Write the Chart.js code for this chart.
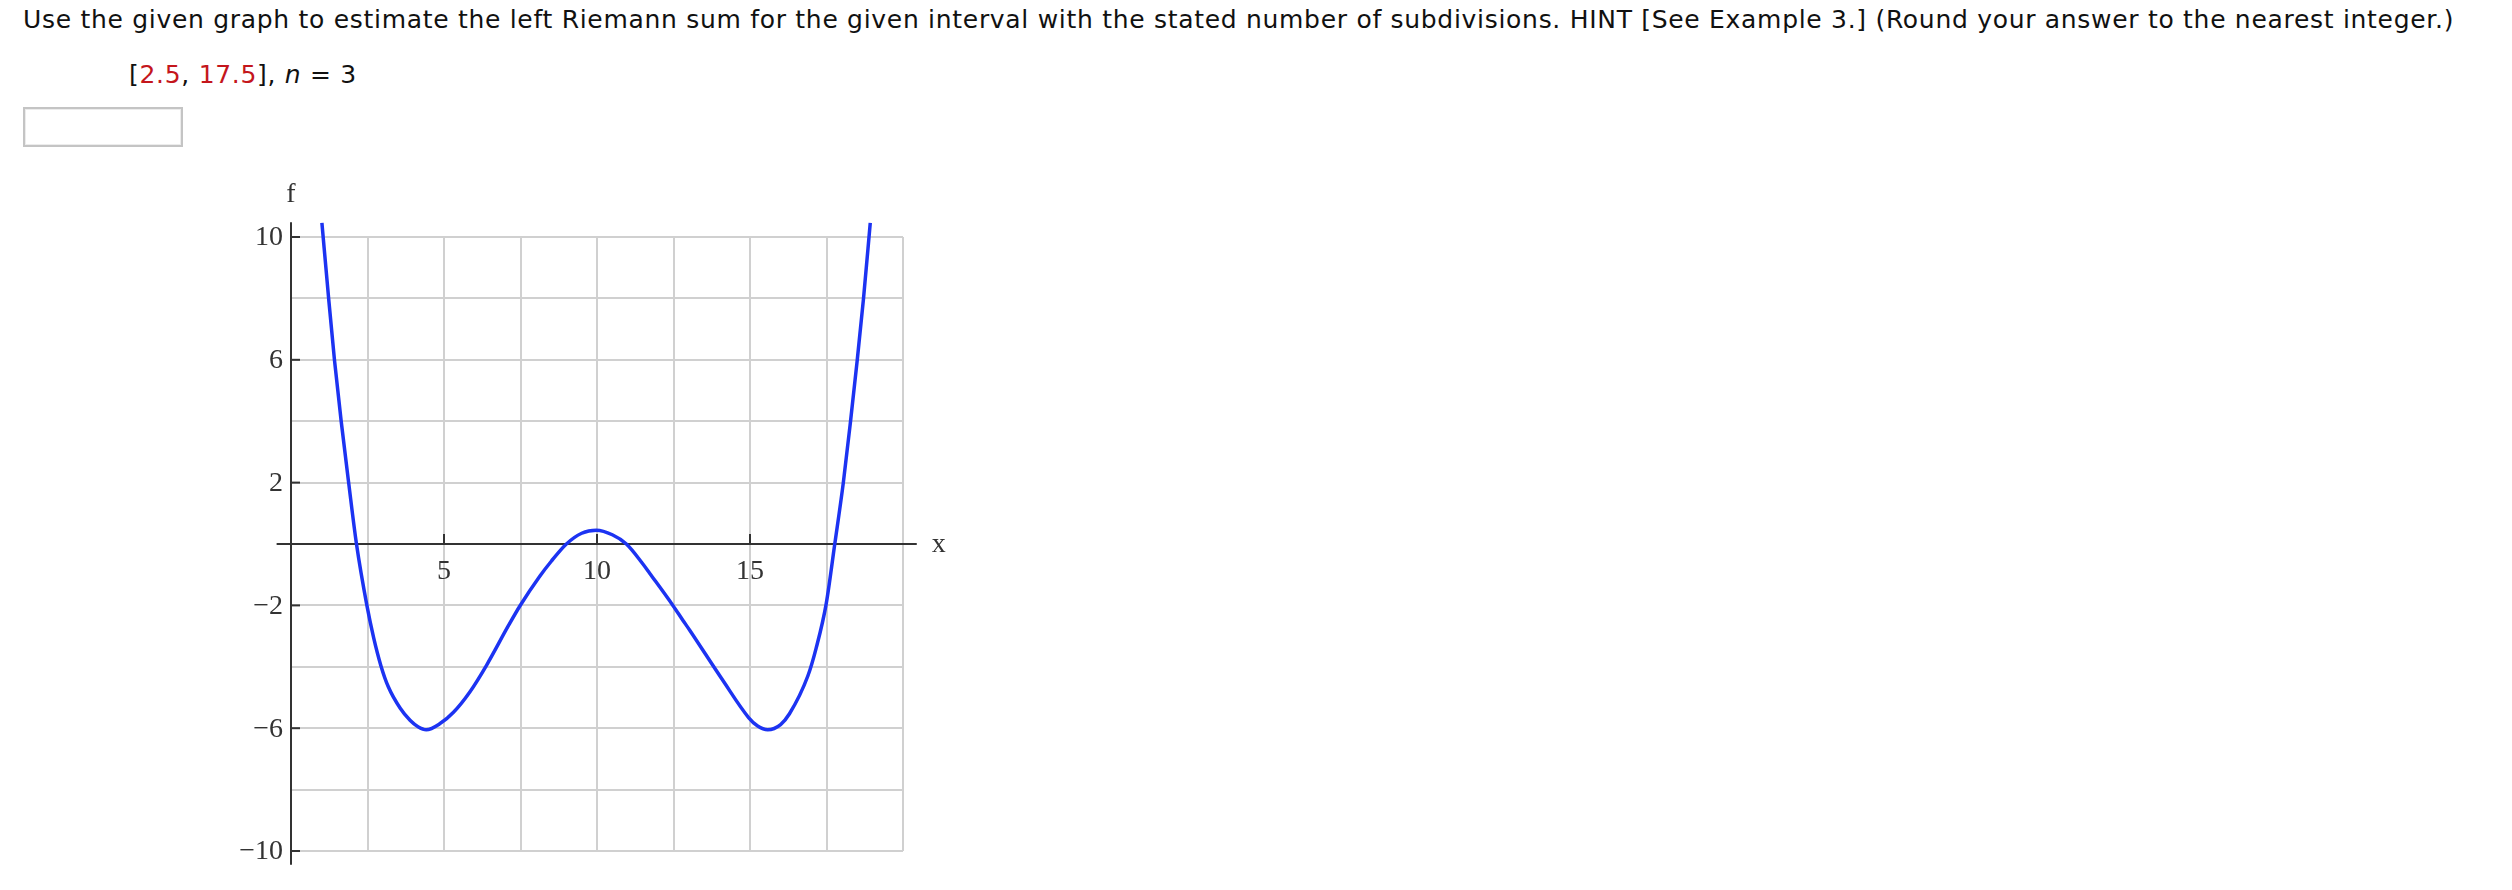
<!DOCTYPE html>
<html>
<head>
<meta charset="utf-8">
<script src="https://cdn.jsdelivr.net/npm/chart.js@4"></script>
<style>
  body { margin: 0; background: #fff; font-family: "DejaVu Sans", Verdana, sans-serif; color: #111; }
  .q { position: absolute; left: 23px; top: 7px; font-size: 25px; line-height: 25px; letter-spacing: 0.7px; white-space: nowrap; }
  .interval { position: absolute; left: 129px; top: 62px; font-size: 25px; line-height: 25px; letter-spacing: 0.7px; white-space: nowrap; }
  .red { color: #c4161c; }
  .answer { position: absolute; left: 23px; top: 107px; width: 156px; height: 36px; border: 2px solid #c4c4c4; box-shadow: inset 0 0 0 1px #ececec; background: #fff; }
  #graph { position: absolute; left: 0; top: 160px; }
</style>
</head>
<body>
<div class="q">Use the given graph to estimate the left Riemann sum for the given interval with the stated number of subdivisions. HINT [See Example 3.] (Round your answer to the nearest integer.)</div>
<div class="interval">[<span class="red">2.5</span>, <span class="red">17.5</span>], <i>n</i> = 3</div>
<div class="answer"></div>
<canvas id="graph" width="1000" height="730"></canvas>
<script>
// curve
var curveX = [1.01, 1.23, 1.42, 1.64, 1.89, 2.14, 2.48, 2.70, 2.94, 3.18, 3.57, 3.89, 4.15, 4.42, 4.87, 5.31, 5.85, 6.39, 7.10, 7.48, 8.13, 8.50, 9.00, 9.50, 9.98, 10.50, 10.96, 11.50, 11.72, 12.48, 12.81, 13.03, 14.11, 14.96, 15.25, 15.58, 16.00, 16.29, 16.89, 17.16, 17.49, 17.77, 18.05, 18.28, 18.50, 18.71, 18.93];
var curveY = [10.46, 8.0, 6.0, 4.0, 1.95, 0.0, -2.0, -3.05, -3.97, -4.65, -5.35, -5.74, -5.95, -6.05, -5.85, -5.48, -4.81, -3.95, -2.67, -2.02, -1.05, -0.57, 0.0, 0.35, 0.45, 0.3, 0.0, -0.65, -0.95, -2.0, -2.49, -2.81, -4.44, -5.66, -5.93, -6.05, -5.88, -5.53, -4.3, -3.4, -1.95, 0.0, 2.0, 3.95, 5.95, 8.0, 10.46];

var yTickValues = [10, 6, 2, -2, -6, -10];
var yTickLabels = ["10", "6", "2", "\u22122", "\u22126", "\u221210"];
var xTickValues = [5, 10, 15];
var xTickLabels = ["5", "10", "15"];

var xAxisRange = [-0.47, 20.45];
var yAxisRange = [-10.45, 10.48];

var points = curveX.map(function (x, i) { return { x: x, y: curveY[i] }; });

var axesPlugin = {
    id: "axes",
    beforeDatasetsDraw: function (chart) {
        var ctx = chart.ctx;
        var xs = chart.scales.x, ys = chart.scales.y;
        var x0 = xs.getPixelForValue(0), y0 = ys.getPixelForValue(0);
        ctx.save();
        ctx.strokeStyle = "#333";
        ctx.lineWidth = 2;
        ctx.beginPath();
        ctx.moveTo(x0, ys.getPixelForValue(yAxisRange[1]));
        ctx.lineTo(x0, ys.getPixelForValue(yAxisRange[0]));
        ctx.moveTo(xs.getPixelForValue(xAxisRange[0]), y0);
        ctx.lineTo(xs.getPixelForValue(xAxisRange[1]), y0);
        ctx.stroke();

        ctx.font = '28px "Liberation Serif", "Times New Roman", serif';
        ctx.fillStyle = "#333";
        // y ticks
        ctx.textAlign = "right";
        ctx.textBaseline = "middle";
        yTickValues.forEach(function (v, i) {
            var py = ys.getPixelForValue(v);
            ctx.beginPath();
            ctx.moveTo(x0, py);
            ctx.lineTo(x0 + 9, py);
            ctx.stroke();
            ctx.fillText(yTickLabels[i], x0 - 8, py + 1);
        });
        // x ticks
        ctx.textAlign = "center";
        ctx.textBaseline = "top";
        xTickValues.forEach(function (v, i) {
            var px = xs.getPixelForValue(v);
            ctx.beginPath();
            ctx.moveTo(px, y0);
            ctx.lineTo(px, y0 - 10);
            ctx.stroke();
            ctx.fillText(xTickLabels[i], px, y0 + 14);
        });
        // axis names
        ctx.textAlign = "center";
        ctx.textBaseline = "alphabetic";
        ctx.fillText("f", x0, ys.getPixelForValue(10) - 35);
        ctx.textAlign = "left";
        ctx.textBaseline = "middle";
        ctx.fillText("x", xs.getPixelForValue(xAxisRange[1]) + 15, y0 + 1);
        ctx.restore();
    }
};

var chart = new Chart(document.getElementById("graph").getContext("2d"), {
    type: "scatter",
    data: {
        datasets: [{
            data: points,
            showLine: true,
            borderColor: "#1c33f2",
            borderWidth: 3.5,
            pointRadius: 0,
            cubicInterpolationMode: "monotone",
            clip: false
        }]
    },
    options: {
        responsive: false,
        animation: false,
        layout: { padding: { left: 291, right: 97, top: 77, bottom: 39 } },
        elements: { line: { capBezierPoints: false } },
        plugins: { legend: { display: false }, tooltip: { enabled: false } },
        scales: {
            x: {
                type: "linear", min: 0, max: 20,
                ticks: { display: false, stepSize: 2.5 },
                grid: { color: "#d0d0d0", lineWidth: 2, drawTicks: false },
                border: { display: false }
            },
            y: {
                type: "linear", min: -10, max: 10,
                ticks: { display: false, stepSize: 2 },
                grid: { color: "#d0d0d0", lineWidth: 2, drawTicks: false },
                border: { display: false }
            }
        }
    },
    plugins: [axesPlugin]
});
</script>
</body>
</html>
